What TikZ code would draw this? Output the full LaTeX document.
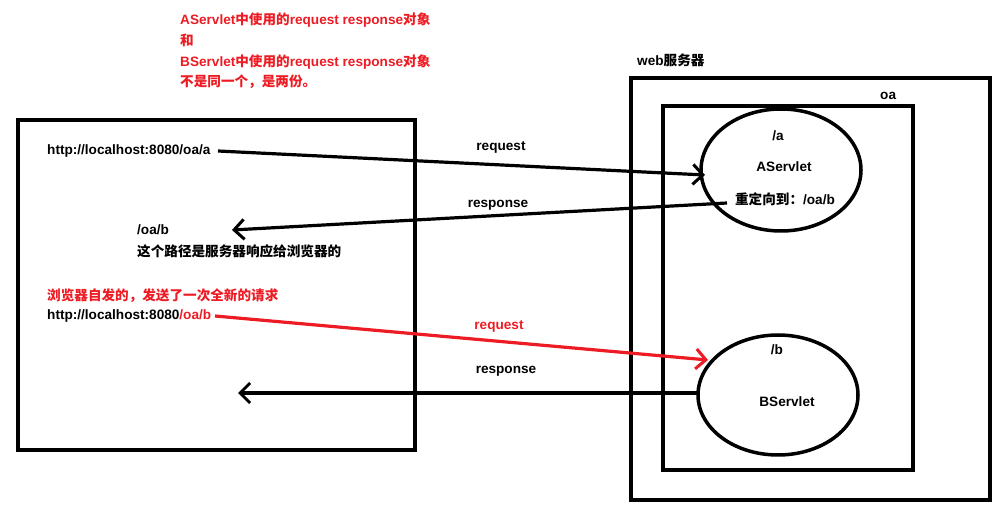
\documentclass[tikz,border=0pt]{standalone}
\usepackage{fontspec}
\setmainfont{Liberation Sans}
\newfontfamily\cjk{Noto Sans CJK SC}
\usetikzlibrary{arrows.meta,shapes.geometric}
\definecolor{myred}{RGB}{237,28,36}
\begin{document}
\begin{tikzpicture}[x=1pt,y=-1pt,
  box/.style={draw,line width=3.5pt},
  lbl/.style={font=\bfseries\fontsize{13.6}{16}\selectfont,inner sep=0pt,anchor=west},
  clbl/.style={font=\bfseries\fontsize{13.6}{16}\selectfont,inner sep=0pt},
  red/.style={text=myred},
  conn/.style={line width=3.2pt,-{Straight Barb[length=10pt,width=20pt,line width=3pt]}}]
\useasboundingbox (0,0) rectangle (1002,510);
\draw[box] (18,120) rectangle (415,450);
\draw[box] (631,78) rectangle (990,500);
\draw[box] (663,106) rectangle (913,470);
\node[lbl] (web) at (637,60) {web\cjk 服务器};
\node[lbl] (oa) at (880,96) {oa};
\node[draw,line width=3.5pt,ellipse,minimum width=160,minimum height=122,inner sep=0] (A) at (781,170) {};
\node[draw,line width=3.5pt,ellipse,minimum width=160,minimum height=120,inner sep=0] (B) at (778,395) {};
\node[clbl] (pa) at (778,136) {/a};
\node[clbl] (as) at (784,167) {AServlet};
\node[clbl] (redir) at (785,199) {{\cjk 重定向到：}/oa/b};
\node[clbl] (pb) at (777,350) {/b};
\node[clbl] (bs) at (787,402) {BServlet};
\node[lbl,red] (t1) at (180,20) {AServlet{\cjk 中使用的}request response{\cjk 对象}};
\node[lbl,red] (t2) at (180,40) {\cjk 和};
\node[lbl,red] (t3) at (180,62) {BServlet{\cjk 中使用的}request response{\cjk 对象}};
\node[lbl,red] (t4) at (180,82) {\cjk 不是同一个，是两份。};
\node[lbl] (ua) at (47,151) {http://localhost:8080/oa/a};
\node[lbl] (ob) at (137,230) {/oa/b};
\node[lbl] (expl) at (137,251) {\cjk 这个路径是服务器响应给浏览器的};
\node[lbl,red] (self) at (47,296) {\cjk 浏览器自发的，发送了一次全新的请求};
\node[lbl] (ub) at (47,316) {http://localhost:8080\textcolor{myred}{/oa/b}};
\coordinate (r1s) at (218,151); \coordinate (r1e) at (705,175);
\coordinate (s1s) at (727,203); \coordinate (s1e) at (232,230);
\coordinate (r2s) at (215,316); \coordinate (r2e) at (708,360);
\coordinate (s2s) at (697,393); \coordinate (s2e) at (238,393);
\draw[conn] (r1s) -- (r1e);
\draw[conn] (s1s) -- (s1e);
\draw[conn,draw=myred] (r2s) -- (r2e);
\draw[conn] (s2s) -- (s2e);
\node[clbl] (q1) at (501,147) {request};
\node[clbl] (p1) at (498,205) {response};
\node[clbl,red] (q2) at (499,326) {request};
\node[clbl] (p2) at (506,371) {response};
\end{tikzpicture}
\end{document}
